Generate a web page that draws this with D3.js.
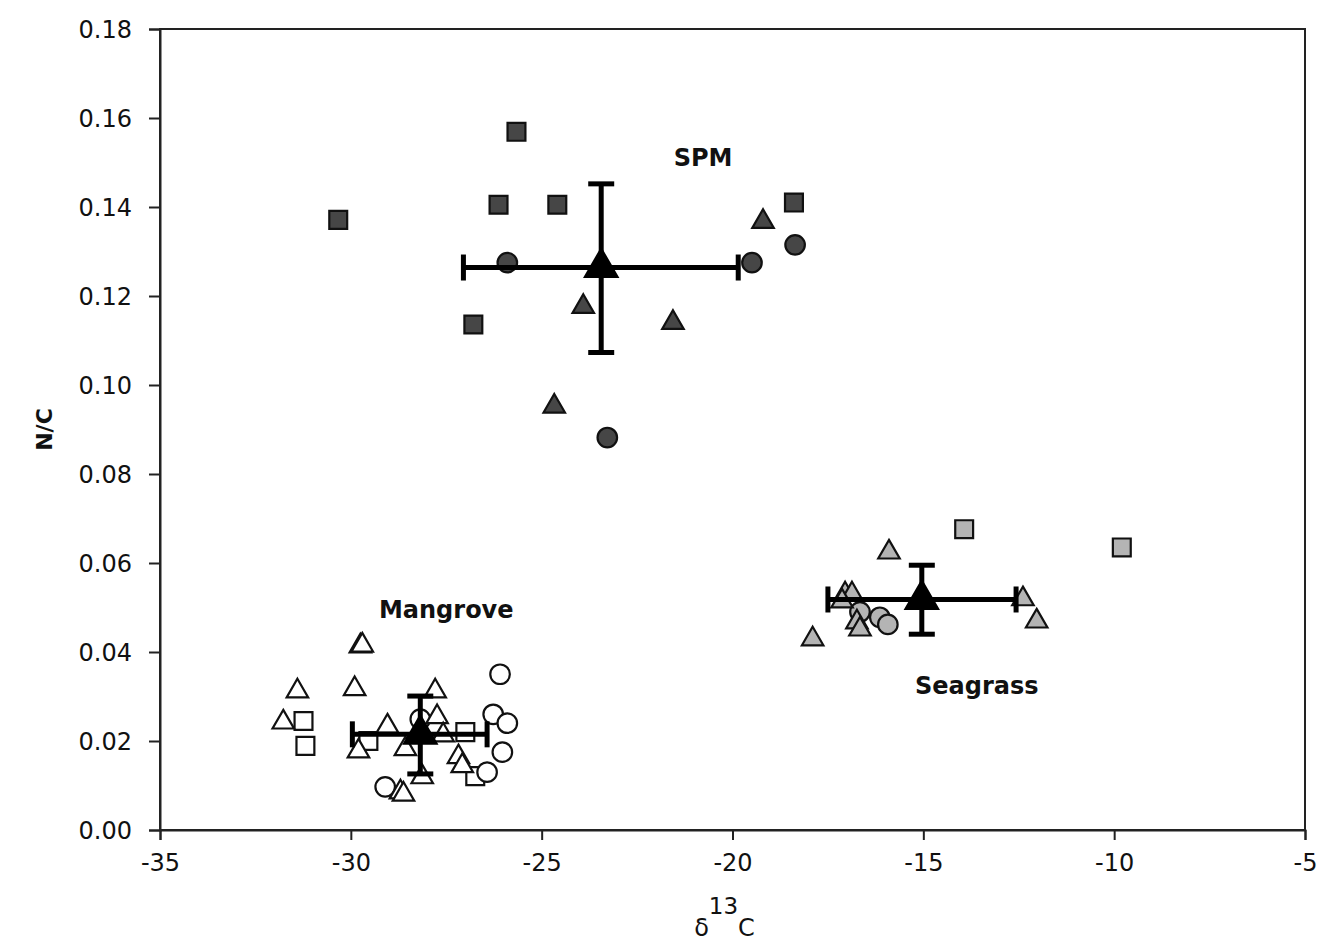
<!DOCTYPE html>
<html>
<head>
<meta charset="utf-8">
<script src="https://cdn.jsdelivr.net/npm/d3@7"></script>
<style>
  body { margin: 0; background: #fff; }
  text { font-family: "DejaVu Sans", Arial, sans-serif; }
</style>
</head>
<body>
<div id="chart"></div>
<script>
// d13C, N/C pairs per source and symbol
var spmSquares = [[-30.33,0.1371],[-25.66,0.1569],[-26.13,0.1405],[-24.59,0.1405],[-26.79,0.1136],[-18.39,0.1410]];
var spmCircles = [[-25.90,0.1275],[-19.49,0.1275],[-18.36,0.1315],[-23.28,0.0882]];
var spmTriangles = [[-19.20,0.1367],[-23.91,0.1176],[-21.56,0.1140],[-24.67,0.0952]];

var seaSquares = [[-13.93,0.0676],[-9.80,0.0635]];
var seaCircles = [[-16.66,0.0490],[-16.14,0.0478],[-15.93,0.0462]];
var seaTriangles = [[-15.90,0.0624],[-17.90,0.0429],[-12.39,0.0519],[-12.03,0.0469],
  [-17.05,0.0530],[-16.87,0.0530],[-17.13,0.0514],[-16.74,0.0467],[-16.66,0.0451]];

var manSquares = [[-31.24,0.0245],[-31.19,0.0189],[-29.54,0.0200],[-27.00,0.0220],[-26.74,0.0121]];
var manCircles = [[-26.09,0.0350],[-28.18,0.0249],[-26.27,0.0260],[-25.90,0.0240],[-26.03,0.0175],
  [-26.43,0.0130],[-29.10,0.0097]];
var manTriangles = [[-29.75,0.0413],[-29.70,0.0415],[-31.40,0.0312],[-29.90,0.0317],[-31.77,0.0242],
  [-29.04,0.0233],[-27.79,0.0312],[-27.74,0.0254],[-27.58,0.0213],[-28.57,0.0182],[-29.80,0.0177],
  [-27.18,0.0164],[-27.08,0.0144],[-28.13,0.0119],[-28.70,0.0085],[-28.62,0.0080]];

// group means with SD ranges
var groupNames = ["SPM", "Seagrass", "Mangrove"];
var meanX = [-23.44, -15.04, -28.18];
var meanY = [0.1264, 0.0518, 0.0215];
var xLow = [-27.05, -17.50, -29.96];
var xHigh = [-19.85, -12.57, -26.43];
var yLow = [0.1073, 0.0440, 0.0126];
var yHigh = [0.1452, 0.0595, 0.0301];
var labelPos = [[-20.77, 0.1493], [-13.6, 0.0305], [-27.5, 0.0476]];

var xTicks = [-35, -30, -25, -20, -15, -10, -5];
var yTicks = [0, 0.02, 0.04, 0.06, 0.08, 0.10, 0.12, 0.14, 0.16, 0.18];

var margin = {top: 29, right: 14, bottom: 117, left: 160},
    width = 1320 - margin.left - margin.right,
    height = 948 - margin.top - margin.bottom;

var svg = d3.select("#chart").append("svg")
    .attr("width", 1320)
    .attr("height", 948)
    .append("g")
    .attr("transform", "translate(" + margin.left + "," + margin.top + ")");

var x = d3.scaleLinear().domain([-35, -5]).range([0, width - 1]);
var y = d3.scaleLinear().domain([0, 0.18]).range([height - 1, 0]);

// frame
svg.append("rect")
    .attr("x", 0).attr("y", 0)
    .attr("width", width - 1).attr("height", height - 1)
    .attr("fill", "none").attr("stroke", "#222").attr("stroke-width", 2);

var xAxis = svg.append("g")
    .attr("transform", "translate(0," + (height - 1) + ")")
    .call(d3.axisBottom(x).tickValues(xTicks).tickSize(10).tickPadding(14)
        .tickFormat(function (d) { return String(d); }));
var yAxis = svg.append("g")
    .call(d3.axisLeft(y).tickValues(yTicks).tickSize(11).tickPadding(17).tickFormat(d3.format(".2f")));

[xAxis, yAxis].forEach(function (a) {
    a.select(".domain").attr("stroke", "#222").attr("stroke-width", 2);
    a.selectAll(".tick line").attr("stroke", "#222").attr("stroke-width", 2);
    a.selectAll(".tick text").attr("font-size", 24).attr("fill", "#111")
        .style("font-family", "'DejaVu Sans', Arial, sans-serif");
});
yAxis.selectAll(".tick text").attr("dy", "0.36em");

// axis titles
svg.append("text")
    .attr("transform", "translate(-108," + y(0.09) + ") rotate(-90)")
    .attr("text-anchor", "middle")
    .attr("font-size", 22).attr("font-weight", "bold").attr("fill", "#111")
    .text("N/C");

var xt = svg.append("text")
    .attr("x", x(-20) - 8).attr("y", 907)
    .attr("text-anchor", "middle")
    .attr("font-size", 24).attr("fill", "#111");
xt.append("tspan").text("δ");
xt.append("tspan").attr("dy", -22).attr("font-size", 23).text("13");
xt.append("tspan").attr("dy", 22).text("C");

var shapes = {
    square: d3.symbol().type(d3.symbolSquare).size(320),
    circle: d3.symbol().type(d3.symbolCircle).size(300),
    triangle: d3.symbol().type(d3.symbolTriangle).size(200)
};

function drawPoints(data, shape, fill) {
    svg.append("g").selectAll("path").data(data).enter()
        .append("path")
        .attr("transform", function (d) { return "translate(" + x(d[0]) + "," + y(d[1]) + ")"; })
        .attr("d", shapes[shape])
        .attr("fill", fill)
        .attr("stroke", "#111")
        .attr("stroke-width", 2.2);
}

drawPoints(manSquares, "square", "#fff");
drawPoints(manCircles, "circle", "#fff");
drawPoints(manTriangles, "triangle", "#fff");
drawPoints(seaSquares, "square", "#b4b4b4");
drawPoints(seaCircles, "circle", "#b4b4b4");
drawPoints(seaTriangles, "triangle", "#b4b4b4");
drawPoints(spmSquares, "square", "#464646");
drawPoints(spmCircles, "circle", "#464646");
drawPoints(spmTriangles, "triangle", "#464646");

// means with error bars
var cap = 13;
var eb = svg.append("g").attr("stroke", "#000").attr("stroke-width", 5).attr("fill", "none");
groupNames.forEach(function (g, i) {
    eb.append("line").attr("x1", x(xLow[i])).attr("x2", x(xHigh[i])).attr("y1", y(meanY[i])).attr("y2", y(meanY[i]));
    eb.append("line").attr("x1", x(meanX[i])).attr("x2", x(meanX[i])).attr("y1", y(yLow[i])).attr("y2", y(yHigh[i]));
    eb.append("line").attr("x1", x(xLow[i])).attr("x2", x(xLow[i])).attr("y1", y(meanY[i]) - cap).attr("y2", y(meanY[i]) + cap);
    eb.append("line").attr("x1", x(xHigh[i])).attr("x2", x(xHigh[i])).attr("y1", y(meanY[i]) - cap).attr("y2", y(meanY[i]) + cap);
    eb.append("line").attr("x1", x(meanX[i]) - cap).attr("x2", x(meanX[i]) + cap).attr("y1", y(yLow[i])).attr("y2", y(yLow[i]));
    eb.append("line").attr("x1", x(meanX[i]) - cap).attr("x2", x(meanX[i]) + cap).attr("y1", y(yHigh[i])).attr("y2", y(yHigh[i]));
});
svg.append("g").selectAll("path").data(groupNames).enter()
    .append("path")
    .attr("transform", function (d, i) { return "translate(" + x(meanX[i]) + "," + y(meanY[i]) + ")"; })
    .attr("d", d3.symbol().type(d3.symbolTriangle).size(470))
    .attr("fill", "#000").attr("stroke", "#000").attr("stroke-width", 2);

// group labels
svg.append("g").selectAll("text").data(groupNames).enter()
    .append("text")
    .attr("x", function (d, i) { return x(labelPos[i][0]); })
    .attr("y", function (d, i) { return y(labelPos[i][1]); })
    .attr("text-anchor", "middle")
    .attr("font-size", 24).attr("font-weight", "bold").attr("fill", "#111")
    .text(function (d) { return d; });
</script>
</body>
</html>
